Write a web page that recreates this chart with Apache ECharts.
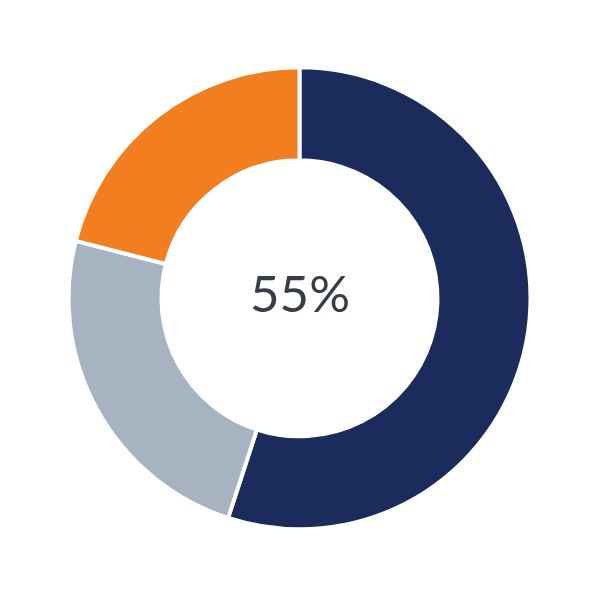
<!DOCTYPE html>
<html>
<head>
<meta charset="utf-8">
<script src="https://cdn.jsdelivr.net/npm/echarts@6/dist/echarts.min.js"></script>
<style>
html,body{margin:0;padding:0;background:#fff;}
#chart{width:600px;height:599px;}
</style>
</head>
<body>
<div id="chart"></div>
<script>
var categories = ['A', 'B', 'C'];
var values = [55, 24, 21];
var colors = ['#1b2b5b', '#a8b3c2', '#f27e20'];
var centerLabel = '55%';

var chart = echarts.init(document.getElementById('chart'));
chart.setOption({
  animation: false,
  title: {
    text: centerLabel,
    left: 'center',
    top: 265,
    textStyle: {
      fontFamily: 'Lato',
      fontWeight: 'normal',
      fontSize: 51,
      color: '#363d47'
    }
  },
  series: [{
    type: 'pie',
    center: [299.5, 298.3],
    radius: [138, 231],
    startAngle: 90,
    clockwise: true,
    label: { show: false },
    labelLine: { show: false },
    emphasis: { disabled: true },
    itemStyle: { borderColor: '#ffffff', borderWidth: 4 },
    data: categories.map(function (c, i) {
      return { name: c, value: values[i], itemStyle: { color: colors[i] } };
    })
  }]
});
</script>
</body>
</html>
